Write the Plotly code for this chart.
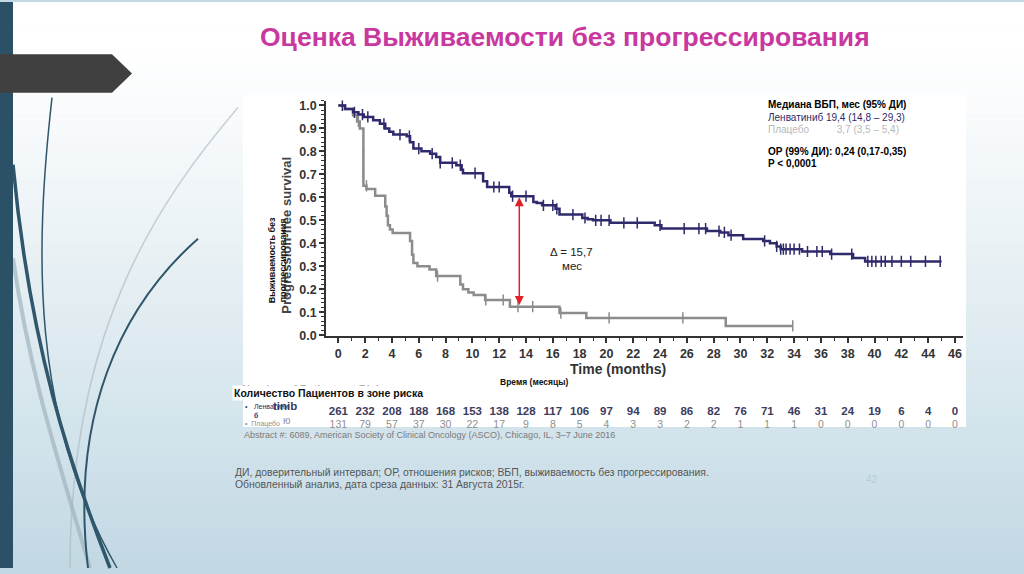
import plotly.graph_objects as go
import numpy as np

W, H = 1024, 574

# ---------------- data ----------------
lenv_t = [0, 0.5, 1.1, 1.5, 1.9, 2.6, 3.1, 3.5, 3.8, 4.1, 5.1, 5.35, 5.6, 6.2, 6.85, 7.3, 7.6, 8.8, 9.2, 9.3,
          10.8, 11.1, 12.75, 12.9, 14.55, 14.8, 15.2, 16.2, 16.5, 18.2, 18.6, 19.0, 20.3, 23.6, 24.1, 27.5,
          28.5, 29.1, 30.2, 31.7, 32.2, 32.7, 33.0, 34.6, 36.7, 38.4, 39.3, 45.0]
lenv_s = [1.0, 0.985, 0.97, 0.96, 0.95, 0.935, 0.92, 0.90, 0.885, 0.873, 0.866, 0.84, 0.812, 0.80, 0.79, 0.775,
          0.75, 0.74, 0.72, 0.705, 0.67, 0.645, 0.62, 0.605, 0.58, 0.575, 0.565, 0.55, 0.525, 0.51, 0.505,
          0.50, 0.489, 0.478, 0.464, 0.453, 0.447, 0.435, 0.418, 0.41, 0.40, 0.386, 0.374, 0.364, 0.353,
          0.336, 0.321, 0.321]
lenv_cens = [0.3, 1.2, 1.8, 2.2, 3.4, 4.6, 5.3, 6.0, 7.0, 7.6, 8.5, 9.1, 10.2, 11.6, 12.0, 13.0, 14.0, 15.3,
             16.0, 16.3, 17.5, 18.4, 19.2, 19.6, 20.2, 21.3, 22.3, 24.0, 25.8, 26.9, 27.4, 28.4, 28.8, 29.3,
             31.8, 32.7, 33.0, 33.2, 33.4, 33.7, 34.0, 34.4, 35.0, 35.7, 36.1, 36.8, 38.3, 39.5, 39.8, 40.1,
             40.5, 40.8, 41.3, 42.0, 42.7, 43.8, 44.9]

plac_t = [0, 0.5, 1.1, 1.4, 1.6, 1.87, 2.1, 2.75, 3.5, 3.6, 3.7, 3.85, 4.05, 5.35, 5.5, 5.6, 5.9, 6.8, 7.3,
          9.1, 9.3, 9.7, 10.1, 10.95, 12.8, 16.5, 18.5, 28.9, 33.9]
plac_s = [1.0, 0.985, 0.957, 0.93, 0.90, 0.65, 0.636, 0.607, 0.56, 0.52, 0.478, 0.46, 0.445, 0.41, 0.35, 0.314,
          0.30, 0.286, 0.257, 0.22, 0.20, 0.186, 0.175, 0.153, 0.124, 0.096, 0.075, 0.04, 0.04]
plac_cens_t = [1.5, 1.87, 1.87, 2.1, 7.4, 11.0, 12.3, 13.4, 14.5, 16.6, 20.2, 25.7, 33.9]
plac_cens_s = [0.93, 0.785, 0.71, 0.65, 0.257, 0.153, 0.153, 0.124, 0.124, 0.096, 0.075, 0.075, 0.04]

risk_times = list(range(0, 47, 2))
risk_lenv = [261, 232, 208, 188, 168, 153, 138, 128, 117, 106, 97, 94, 89, 86, 82, 76, 71, 46, 31, 24, 19, 6, 4, 0]
risk_plac = [131, 79, 57, 37, 30, 22, 17, 9, 8, 5, 4, 3, 3, 2, 2, 1, 1, 1, 0, 0, 0, 0, 0, 0]

y_ticks = [0.0, 0.1, 0.2, 0.3, 0.4, 0.5, 0.6, 0.7, 0.8, 0.9, 1.0]
x_ticks = list(range(0, 47, 2))

NAVY = "#2e2a6b"
GRAY = "#8c8c8c"
FONT = "Liberation Sans"


def px(x):
    return x / W


def py(y):
    return 1 - y / H


def step_at(ts, ss, t):
    idx = np.searchsorted(np.array(ts), t, side="right") - 1
    return ss[max(idx, 0)]


fig = go.Figure()

fig.add_trace(go.Scatter(x=plac_t, y=plac_s, mode="lines", line=dict(color=GRAY, width=2.5, shape="hv"),
                         hoverinfo="skip"))
fig.add_trace(go.Scatter(x=plac_cens_t, y=plac_cens_s, mode="markers",
                         marker=dict(symbol="line-ns", size=8, line=dict(color=GRAY, width=1.5)), hoverinfo="skip"))
fig.add_trace(go.Scatter(x=lenv_t, y=lenv_s, mode="lines", line=dict(color=NAVY, width=2.5, shape="hv"),
                         hoverinfo="skip"))
fig.add_trace(go.Scatter(x=lenv_cens, y=[step_at(lenv_t, lenv_s, t) for t in lenv_cens], mode="markers",
                         marker=dict(symbol="line-ns", size=8, line=dict(color=NAVY, width=1.5)), hoverinfo="skip"))

# number at risk rows
fig.add_trace(go.Scatter(x=risk_times, y=[1] * len(risk_times), yaxis="y2", mode="text",
                         text=[str(v) for v in risk_lenv],
                         textfont=dict(family=FONT, size=11.5, color="#3c3c5e", weight="bold"), hoverinfo="skip"))
fig.add_trace(go.Scatter(x=risk_times, y=[0] * len(risk_times), yaxis="y2", mode="text",
                         text=[str(v) for v in risk_plac],
                         textfont=dict(family=FONT, size=10.5, color="#8f8f8f"), hoverinfo="skip"))

shapes = []
# background gradient
nb = 60
for i in range(nb):
    f = (i + 0.5) / nb
    g = max(0.0, (f - 0.08) / 0.92) ** 1.1
    r = int(255 - (255 - 194) * g)
    gg = int(255 - (255 - 217) * g)
    b = int(255 - (255 - 228) * g)
    shapes.append(dict(type="rect", xref="paper", yref="paper", x0=0, x1=1, y0=py(H * (i + 1) / nb) - 0.001,
                       y1=py(H * i / nb), fillcolor=f"rgb({r},{gg},{b})", line=dict(width=0), layer="below"))


def path_px(pts):
    s = f"M {px(pts[0][0])},{py(pts[0][1])}"
    rest = pts[1:]
    for k in range(0, len(rest), 3):
        a, b_, c = rest[k], rest[k + 1], rest[k + 2]
        s += f" C {px(a[0])},{py(a[1])} {px(b_[0])},{py(b_[1])} {px(c[0])},{py(c[1])}"
    return s


curves = [
    ([(238, 107), (160, 200), (70, 330), (70, 574)], "rgba(170,180,185,0.6)", 1.5),
    ([(13, 260), (30, 380), (60, 470), (90, 574)], "rgba(160,180,190,0.7)", 4),
    ([(198, 240), (120, 310), (70, 420), (88, 574)], "#2f566b", 2),
    ([(52, 97), (35, 250), (30, 420), (117, 574)], "#2f566b", 1.5),
    ([(13, 165), (30, 350), (70, 470), (110, 574)], "#2f566b", 3.5),
]
for pts, col, wd in curves:
    shapes.append(dict(type="path", xref="paper", yref="paper", path=path_px(pts),
                       line=dict(color=col, width=wd), layer="below"))

# left bar
shapes.append(dict(type="rect", xref="paper", yref="paper", x0=0, x1=px(13), y0=0, y1=1,
                   fillcolor="#2b5166", line=dict(width=0), layer="below"))
# arrow tab
shapes.append(dict(type="path", xref="paper", yref="paper",
                   path=f"M 0,{py(53)} L {px(112)},{py(53)} L {px(132)},{py(72.5)} L {px(112)},{py(92)} L 0,{py(92)} Z",
                   fillcolor="#404040", line=dict(width=0), layer="below"))
# white chart panel
shapes.append(dict(type="rect", xref="paper", yref="paper", x0=px(243), x1=px(966), y0=py(431), y1=py(94),
                   fillcolor="white", line=dict(width=0), layer="below"))

ann = []


def A(x, y, text, size=9, color="#000", bold=False, xanchor="left", **kw):
    d = dict(xref="paper", yref="paper", x=px(x), y=py(y), text=text, showarrow=False, xanchor=xanchor,
             yanchor="middle", font=dict(family=FONT, size=size, color=color, weight="bold" if bold else "normal"))
    d.update(kw)
    ann.append(d)


# title
A(565, 36, "Оценка Выживаемости без прогрессирования", size=26.5, color="#c8389f", bold=True, xanchor="center")

# median box
A(766, 104, "Медиана ВБП, мес (95% ДИ)", size=10, bold=True)
A(766, 117, "Ленватиниб 19,4 (14,8 – 29,3)", size=10, color=NAVY)
A(766, 129, "Плацебо&nbsp;&nbsp;&nbsp;&nbsp;&nbsp;&nbsp;&nbsp;&nbsp;&nbsp;&nbsp;3,7 (3,5 – 5,4)", size=10, color="#b8b8b8")
A(766, 152, "ОР (99% ДИ): 0,24 (0,17-0,35)", size=10, bold=True)
A(766, 164, "P < 0,0001", size=10, bold=True)

# axis titles
A(618, 372, "Time (months)", size=14, color="#333", bold=True, xanchor="center")
A(534, 385, "Время (месяцы)", size=8.5, color="#111", bold=True, xanchor="center")
A(287, 237, "Progression-free survival", size=13, color="#444", bold=True, xanchor="center", textangle=-90)
A(278, 262, "Выживаемость без<br>прогрессирования", size=9, color="#111", bold=True, xanchor="center",
  textangle=-90)

# delta
ann.append(dict(xref="x", yref="y", x=17.4, y=0.36, text="Δ = 15,7", showarrow=False,
                font=dict(family=FONT, size=11.5, color="#222")))
ann.append(dict(xref="x", yref="y", x=17.4, y=0.30, text="мес", showarrow=False,
                font=dict(family=FONT, size=11.5, color="#222")))
ann.append(dict(xref="x", yref="y", axref="x", ayref="y", x=13.5, y=0.60, ax=13.5, ay=0.125, text="",
                showarrow=True, arrowhead=2, startarrowhead=2, arrowside="end+start", arrowsize=1.2,
                arrowwidth=1.5, arrowcolor="#e02027"))

# at risk labels
A(240, 392, "Number of Patients at Risk", size=11, color="#666", bold=True)
A(232, 397, "Количество Пациентов в зоне риска&nbsp;&nbsp;&nbsp;&nbsp;", size=10.5, color="#111", bold=True,
  bgcolor="white", borderpad=1)
A(271, 410, "tinib", size=11.5, color="#3c3c5e", bold=True)
A(281, 424, "ю", size=10, color="#8f8f8f")
A(243, 410, "•", size=7, color="#3c3c5e")
A(252, 410, "Ленватини", size=7, color=NAVY)
A(252, 419, "б", size=7, color=NAVY, bold=True)
A(243, 428, "•&nbsp;&nbsp;Плацебо", size=7, color="#8f8f8f")

# footer
A(242, 439, "Abstract #: 6089, American Society of Clinical Oncology (ASCO), Chicago, IL, 3–7 June 2016", size=9,
  color="#7a7a7a")
A(233, 477, "ДИ, доверительный интервал; ОР, отношения рисков; ВБП, выживаемость без прогрессирования.", size=10.4,
  color="#555")
A(233, 489, "Обновленный анализ, дата среза данных: 31 Августа 2015г.", size=10.4, color="#555")
A(872, 484, "42", size=10, color="#b8ccd6", xanchor="center")

fig.update_layout(
    width=W, height=H, autosize=False, margin=dict(l=0, r=0, t=0, b=0),
    paper_bgcolor="rgb(194,217,228)", plot_bgcolor="rgba(0,0,0,0)", showlegend=False,
    shapes=shapes, annotations=ann,
    xaxis=dict(domain=[px(326), px(963)], range=[-0.92, 46.6], tickvals=x_ticks, ticktext=[str(v) for v in x_ticks],
               ticks="outside", ticklen=5, tickwidth=1.5, tickcolor="#333", showline=True, linewidth=1.5,
               linecolor="#333", showgrid=False, zeroline=False,
               tickfont=dict(family=FONT, size=12.5, color="#333", weight="bold"),
               minor=dict(dtick=1, tick0=0, ticks="outside", ticklen=3, tickcolor="#333", tickwidth=1)),
    yaxis=dict(domain=[py(339), py(100)], range=[-0.005, 1.021], tickvals=y_ticks,
               ticktext=[f"{v:.1f}" for v in y_ticks], ticks="outside", ticklen=5, tickwidth=1.5,
               tickcolor="#333", showline=True, linewidth=1.5, linecolor="#333", showgrid=False, zeroline=False,
               tickfont=dict(family=FONT, size=12.5, color="#333", weight="bold"),
               minor=dict(dtick=0.02, tick0=0, ticks="outside", ticklen=3, tickcolor="#333", tickwidth=1)),
    yaxis2=dict(domain=[py(436), py(409)], range=[-0.5, 1.5], visible=False, anchor="x"),
)

fig.write_html("out.html", config={"displayModeBar": False},
               post_script="document.body.style.margin='0';document.body.style.overflow='hidden';"
                           "document.documentElement.style.overflow='hidden';")
